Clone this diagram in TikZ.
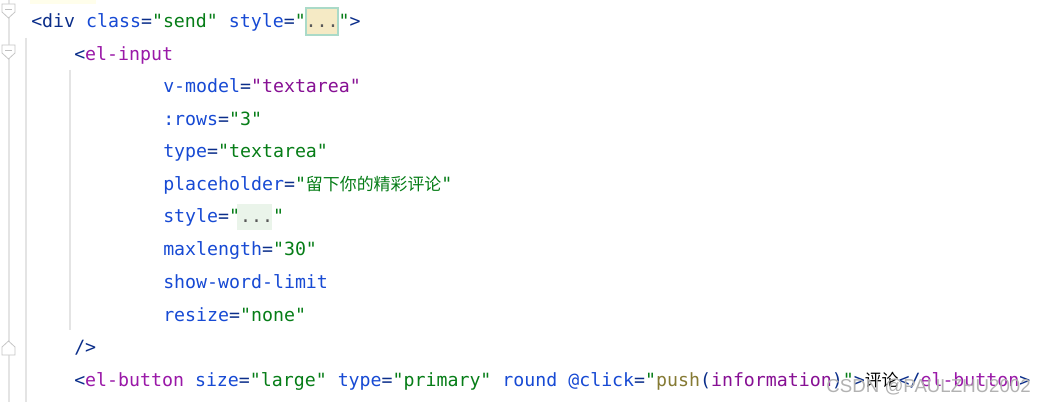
\documentclass[tikz,border=0pt]{standalone}
\usepackage{fontspec}
\setmonofont{DejaVu Sans Mono}[Scale=0.97]
\newfontfamily\cjk{Noto Sans CJK SC}[Scale=0.9]
\newfontfamily\wm{Liberation Sans}
\definecolor{tagc}{HTML}{0B2E8A}
\definecolor{attr}{HTML}{174AD4}
\definecolor{str}{HTML}{067D17}
\definecolor{tagn}{HTML}{9A18A8}
\definecolor{varc}{HTML}{871094}
\definecolor{fn}{HTML}{857A33}
\definecolor{guide}{HTML}{E4E4E4}
\definecolor{foldy}{HTML}{F5EAC5}
\definecolor{foldb}{HTML}{AADAC8}
\definecolor{foldg}{HTML}{EAF4EA}
\newcommand{\Ta}[1]{\textcolor{tagn}{#1}}
\newcommand{\At}[1]{\textcolor{attr}{#1}}
\newcommand{\St}[1]{\textcolor{str}{#1}}
\begin{document}
\begin{tikzpicture}[x=0.75pt,y=-0.75pt,
  code/.style={anchor=base west,inner sep=0pt,font=\ttfamily\fontsize{14.1}{15}\selectfont,text=tagc},
  fold/.style={draw=gray!45,fill=white,line width=0.6pt}]
\useasboundingbox (0,0) rectangle (1044,402);
\fill[white] (0,0) rectangle (1044,402);
\fill[yellow!8] (30,0) rectangle (96,4);
\draw[guide,line width=0.8pt] (9,0) -- (9,402);
\draw[guide,line width=0.8pt] (26,38) -- (26,402);
\draw[guide,line width=0.8pt] (70,70) -- (70,330);
\foreach \y in {4,45} {\draw[fold] (2,\y) -- (15,\y) -- (15,\y+8) -- (8.5,\y+14) -- (2,\y+8) -- cycle; \draw[gray!50] (5,\y+5) -- (12,\y+5);}
\draw[fold] (2,355) -- (15,355) -- (15,347) -- (8.5,341) -- (2,347) -- cycle;
\filldraw[fill=foldy,draw=foldb,line width=1pt] (306,8) rectangle (338,35);
\fill[foldg] (237,204) rectangle (272,230);
\node[code] (l1) at (31,28) {<div \At{class}=\St{"send"} \At{style}=\St{"}\textcolor{gray!70!black}{...}\St{"}>};
\node[code] (l2) at (74,61) {<\Ta{el-input}};
\node[code] (l3) at (163,93) {\At{v-model}=\textcolor{varc}{"textarea"}};
\node[code] (l4) at (163,126) {\At{:rows}=\St{"3"}};
\node[code] (l5) at (163,158) {\At{type}=\St{"textarea"}};
\node[code] (l6) at (163,191) {\At{placeholder}=\St{"{\cjk 留下你的精彩评论}"}};
\node[code] (l7) at (163,223) {\At{style}=\St{"}\textcolor{gray!70!black}{...}\St{"}};
\node[code] (l8) at (163,256) {\At{maxlength}=\St{"30"}};
\node[code] (l9) at (163,288) {\At{show-word-limit}};
\node[code] (l10) at (163,321) {\At{resize}=\St{"none"}};
\node[code] (l11) at (74,353) {/>};
\node[code] (l12) at (74,386) {<\Ta{el-button} \At{size}=\St{"large"} \At{type}=\St{"primary"} \At{round} \At{@click}=\St{"}\textcolor{fn}{push}(\textcolor{varc}{information})\St{"}>{\cjk\textcolor{black}{评论}}</\Ta{el-button}>};
\node[anchor=base east,inner sep=0pt,font=\wm\fontsize{14}{14}\selectfont,text=gray!60] (wm) at (1031,392) {CSDN @PAULZHU2002};
\end{tikzpicture}
\end{document}
